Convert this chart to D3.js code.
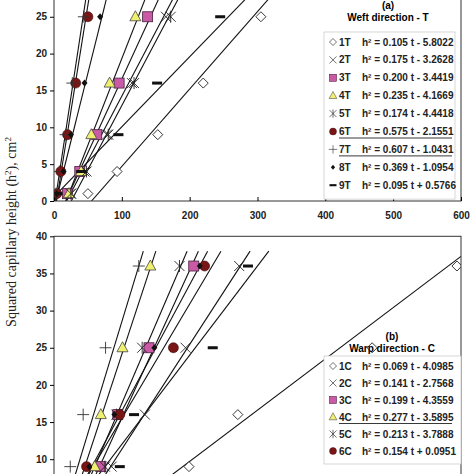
<!DOCTYPE html>
<html><head><meta charset="utf-8">
<script src="https://cdn.jsdelivr.net/npm/d3@7"></script>
<style>body{margin:0;background:#fff}svg{display:block}</style>
</head><body>
<svg id="c" width="474" height="474"></svg>
<script>
// ---- data ----
const levelsT = [1, 4, 9, 16, 25];
const levelsC = [1, 4, 9, 16, 25, 36];
const seriesT = ["1T","2T","3T","4T","5T","6T","7T","8T","9T"];
const seriesC = ["1C","2C","3C","4C","5C","6C","7C","8C","9C"];
const markers = ["diamond","x","square","triangle","asterisk","circle","plus","sdiamond","dash"];
const timesT = [
  [50, 93, 153, 220, 305],
  [25, 45, 78, 115, 165],
  [20, 38, 63, 96, 138],
  [22, 40, 55, 82, 120],
  [25, 48, 80, 118, 172],
  [4, 10, 20, 32, 50],
  [3, 8, 17, 27, 44],
  [4, 14, 25, 45, 68],
  [5, 40, 95, 152, 245]
];
const timesC = [
  [75, 120, 199, 271, 469, 594],
  [30, 55, 85, 134, 194, 273],
  [25, 45, 69, 94, 140, 206],
  [22, 40, 60, 69, 101, 142],
  [25, 48, 75, 92, 130, 185],
  [15, 30, 48, 97, 176, 222],
  [8, 15, 24, 43, 76, 125],
  [18, 35, 52, 89, 148, 215],
  [20, 50, 97, 118, 234, 286]
];
const slopesT = [0.105, 0.175, 0.200, 0.235, 0.174, 0.575, 0.607, 0.369, 0.095];
const interT = [-5.8022, -3.2628, -3.4419, -4.1669, -4.4418, -2.1551, -1.0431, -1.0954, 0.5766];
const slopesC = [0.069, 0.141, 0.199, 0.277, 0.213, 0.154, 0.30, 0.17, 0.12];
const interC = [-4.0985, -2.7568, -4.3559, -3.5895, -3.7888, 0.0951, -1.5, -0.5, 0.0];
const legendT = ["h² = 0.105 t - 5.8022","h² = 0.175 t - 3.2628","h² = 0.200 t - 3.4419","h² = 0.235 t - 4.1669","h² = 0.174 t - 4.4418","h² = 0.575 t - 2.1551","h² = 0.607 t - 1.0431","h² = 0.369 t - 1.0954","h² = 0.095 t + 0.5766"];
const legendC = ["h² = 0.069 t - 4.0985","h² = 0.141 t - 2.7568","h² = 0.199 t - 4.3559","h² = 0.277 t - 3.5895","h² = 0.213 t - 3.7888","h² = 0.154 t + 0.0951"];
const underT = ["6T","7T"], underC = ["4C"];
const xTicks = [0,100,200,300,400,500,600];
const yTicksT = [0,5,10,15,20,25];
const yTicksC = [10,15,20,25,30,35,40];

const svg = d3.select("#c");
const L = 54, R = 461;
const x = d3.scaleLinear().domain([0,600]).range([L,R]);
const yT = d3.scaleLinear().domain([0,30]).range([201,-20.1]);
const yC = d3.scaleLinear().domain([0,40]).range([533.5,236.3]);

function marker(parent, type, cx, cy, k){
  const g = parent.append("g").attr("transform",`translate(${cx},${cy}) scale(${k||1})`);
  if(type==="diamond") g.append("path").attr("d","M0,-5L5,0L0,5L-5,0Z").attr("fill","#fff").attr("stroke","#222").attr("stroke-width",0.9);
  else if(type==="x") g.append("path").attr("d","M-5,-5L5,5M-5,5L5,-5").attr("stroke","#222").attr("stroke-width",0.9);
  else if(type==="square") g.append("rect").attr("x",-5).attr("y",-5).attr("width",10).attr("height",10).attr("fill","#c85aa6").attr("stroke","#4a2040").attr("stroke-width",0.8);
  else if(type==="triangle") g.append("path").attr("d","M0,-6L5.5,4L-5.5,4Z").attr("fill","#f0f070").attr("stroke","#444").attr("stroke-width",0.8);
  else if(type==="asterisk") g.append("path").attr("d","M-5,-5L5,5M-5,5L5,-5M0,-6L0,6").attr("stroke","#222").attr("stroke-width",0.9);
  else if(type==="circle") g.append("circle").attr("r",5).attr("fill","#7a1515").attr("stroke","#3a0808").attr("stroke-width",0.6);
  else if(type==="plus") g.append("path").attr("d","M-6,0L6,0M0,-6L0,6").attr("stroke","#333").attr("stroke-width",0.9);
  else if(type==="sdiamond") g.append("path").attr("d","M0,-3.5L3,0L0,3.5L-3,0Z").attr("fill","#111");
  else if(type==="dash") g.append("rect").attr("x",-5).attr("y",-1.5).attr("width",10).attr("height",3).attr("fill","#111");
}

function panel(id, y, levels, times, slopes, inters, ymaxLine, ticks, top, bottom){
  const g = svg.append("g");
  svg.append("clipPath").attr("id",id).append("rect").attr("x",L).attr("y",top).attr("width",R-L).attr("height",bottom-top);
  const gc = g.append("g").attr("clip-path",`url(#${id})`);
  slopes.forEach((m,i)=>{
    const b = inters[i];
    const t0 = Math.max(0, -b/m), h0 = m*t0+b;
    const t1 = (ymaxLine-b)/m;
    gc.append("line").attr("x1",x(t0)).attr("y1",y(h0)).attr("x2",x(t1)).attr("y2",y(ymaxLine)).attr("stroke","#111").attr("stroke-width",1.1);
  });
  times.forEach((ts,i)=>ts.forEach((t,j)=>marker(gc, markers[i], x(t), y(levels[j]))));
  g.append("rect").attr("x",L).attr("y",top).attr("width",R-L).attr("height",bottom-top).attr("fill","none").attr("stroke","#333").attr("stroke-width",1);
  const ay = g.append("g").attr("transform",`translate(${L},0)`).call(d3.axisLeft(y).tickValues(ticks).tickSize(4).tickFormat(d3.format("d")));
  ay.select(".domain").remove();
  ay.selectAll("text").attr("font-family","Arial, Liberation Sans").attr("font-weight","bold").attr("font-size",10).attr("fill","#222");
  return g;
}
panel("clipT", yT, levelsT, timesT, slopesT, interT, 30, yTicksT, -20.1, 201);
panel("clipC", yC, levelsC, timesC, slopesC, interC, 38, yTicksC, 236.3, 533.5);

const ax = svg.append("g").attr("transform","translate(0,201)").call(d3.axisTop(x).tickValues(xTicks).tickSize(4).tickFormat(d3.format("d")));
ax.select(".domain").remove();
ax.selectAll("text").attr("y",15).attr("dy","0.32em").attr("font-family","Arial, Liberation Sans").attr("font-weight","bold").attr("font-size",10).attr("fill","#222");

function legend(cx, y1, title, top, rowH, series, eqs, under, right){
  svg.append("text").attr("x",cx).attr("y",y1).attr("text-anchor","middle").attr("font-family","Arial, Liberation Sans").attr("font-weight","bold").attr("font-size",10).text(title[0]);
  svg.append("text").attr("x",cx).attr("y",y1+12).attr("text-anchor","middle").attr("font-family","Arial, Liberation Sans").attr("font-weight","bold").attr("font-size",10).text(title[1]);
  svg.append("rect").attr("x",324).attr("y",top).attr("width",right-324).attr("height",rowH*eqs.length+6).attr("fill","#fff").attr("stroke","#ccc").attr("stroke-width",0.8);
  eqs.forEach((e,i)=>{
    const yy = top+10+i*rowH;
    marker(svg, markers[i], 333, yy, 0.7);
    const u = under.includes(series[i]);
    svg.append("text").attr("x",339).attr("y",yy+3.5).attr("font-family","Arial, Liberation Sans").attr("font-weight","bold").attr("font-size",10).attr("fill","#222").text(series[i]);
    svg.append("text").attr("x",362).attr("y",yy+3.5).attr("font-family","Arial, Liberation Sans").attr("font-weight","bold").attr("font-size",10).attr("fill","#222").text(e);
    if(u) svg.append("line").attr("x1",339).attr("x2",452).attr("y1",yy+6.5).attr("y2",yy+6.5).attr("stroke","#222").attr("stroke-width",0.9);
  });
}
legend(388, 9, ["(a)","Weft direction - T"], 32, 17.9, seriesT, legendT, underT, 455);
legend(392, 340, ["(b)","Warp direction - C"], 356, 17, seriesC, legendC, underC, 461);

svg.append("text").attr("transform","translate(16,232) rotate(-90)").attr("text-anchor","middle").attr("font-family","Liberation Serif, Times New Roman").attr("font-size",14).attr("fill","#222")
  .html('Squared capillary height (h<tspan dy="-5" font-size="9">2</tspan><tspan dy="5">), cm</tspan><tspan dy="-5" font-size="9">2</tspan>');
</script>
</body></html>
